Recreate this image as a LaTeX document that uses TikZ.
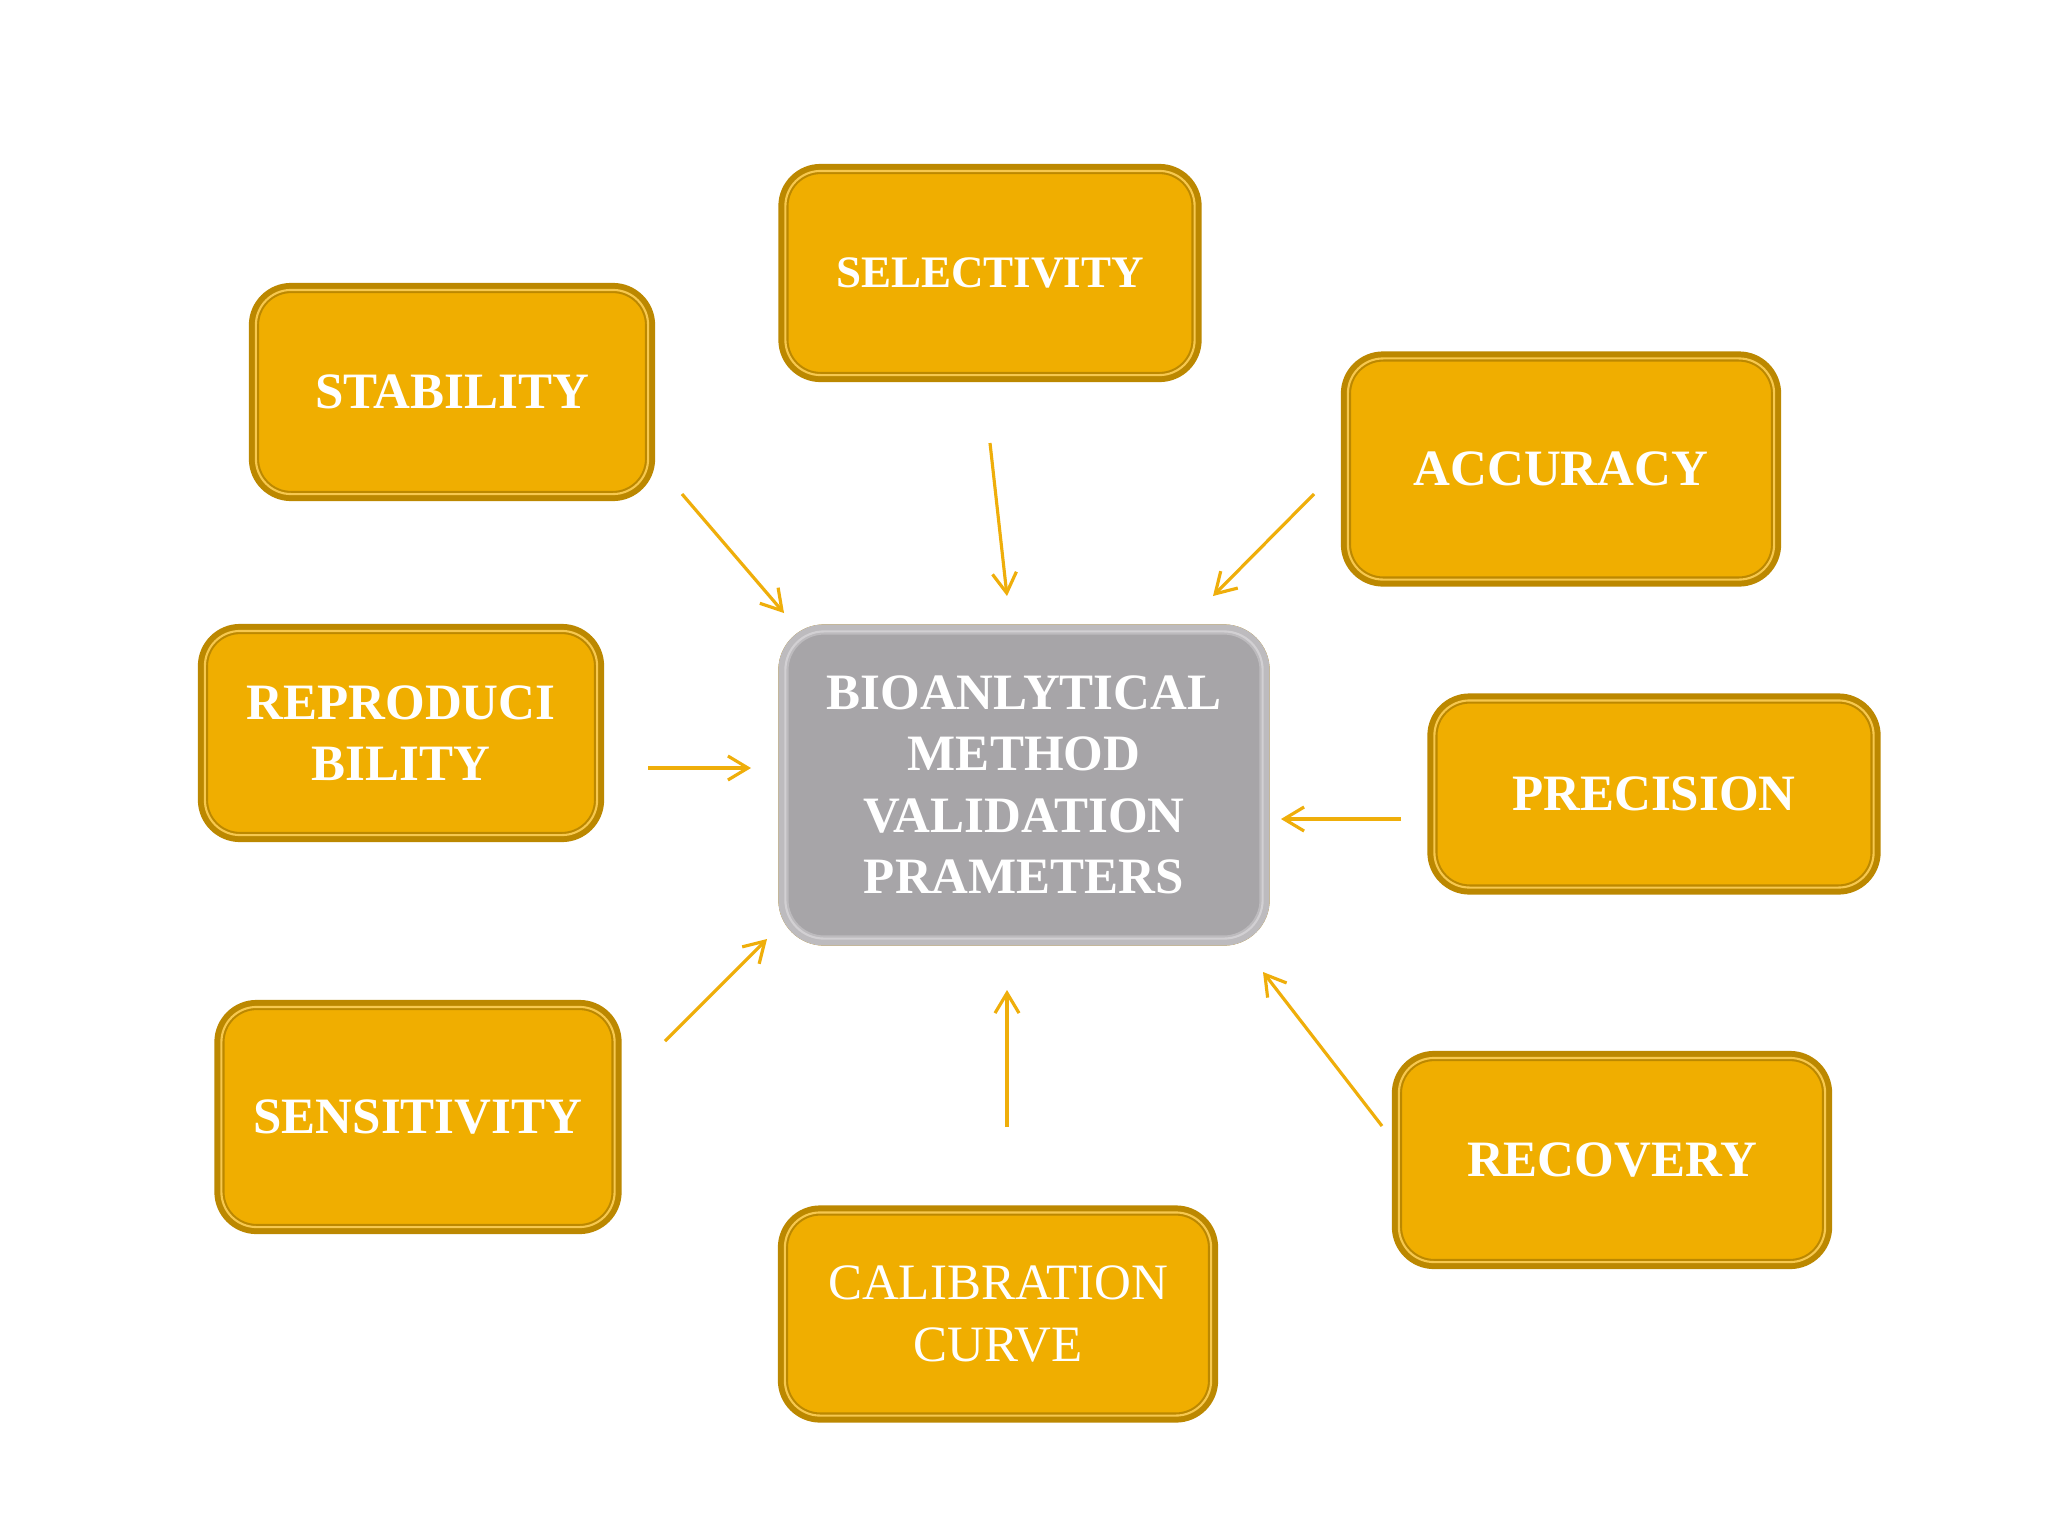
\documentclass[tikz,border=0pt]{standalone}
\usepackage{fontspec}
\setmainfont{Liberation Serif}
\usetikzlibrary{arrows.meta}
\definecolor{amber}{HTML}{F0AE00}
\definecolor{dkamber}{HTML}{BC8800}
\definecolor{ltamber}{HTML}{F7C84E}
\definecolor{slate}{HTML}{A7A5A8}
\definecolor{dkslate}{HTML}{BDBBBE}
\definecolor{ltslate}{HTML}{D2D0D3}
\definecolor{arrowgold}{HTML}{EFAE0A}

\begin{document}
\begin{tikzpicture}[x=0.01cm, y=-0.01cm,
  >={Straight Barb[length=2mm, width=2.4mm]},
  param/.style={preaction={draw=dkamber, line width=4pt}, draw=dkamber, double=ltamber,
    double distance=0.6pt, line width=0.6pt, fill=amber, rounded corners=10pt,
    text=white, align=center, inner sep=0pt,
    font=\fontsize{14.5}{17.5}\selectfont\bfseries},
  centre/.style={param, preaction={draw=dkslate, line width=4pt}, draw=dkslate,
    double=ltslate, fill=slate, rounded corners=11pt},
  link/.style={->, arrowgold, line width=0.9pt}]

% Background
\fill[white] (0,0) rectangle (2048,1536);
\useasboundingbox (0,0) rectangle (2048,1536);

% Centre box
\node[centre, minimum width=4.77cm, minimum height=3.07cm] (valid) at (1024,785)
  {BIOANLYTICAL\\METHOD\\VALIDATION\\PRAMETERS};

% Parameter boxes
\node[param, font=\fontsize{12.8}{16}\selectfont\bfseries,
      minimum width=4.09cm, minimum height=2.04cm] (select) at (990,273) {SELECTIVITY};
\node[param, minimum width=3.92cm, minimum height=2.04cm] (stab) at (452,392) {STABILITY};
\node[param, minimum width=4.26cm, minimum height=2.21cm] (accur) at (1561,469) {ACCURACY};
\node[param, minimum width=3.92cm, minimum height=2.04cm] (repro) at (401,733) {REPRODUCI\\BILITY};
\node[param, minimum width=4.39cm, minimum height=1.87cm] (prec) at (1654,794) {PRECISION};
\node[param, minimum width=3.93cm, minimum height=2.20cm] (sens) at (418,1117) {SENSITIVITY};
\node[param, minimum width=4.26cm, minimum height=2.04cm] (recov) at (1612,1160) {RECOVERY};
\node[param, font=\fontsize{14.5}{17.5}\selectfont, minimum width=4.26cm, minimum height=2.03cm]
  (calib) at (998,1314) {CALIBRATION\\CURVE};

% Arrow ends
\coordinate (stab-out) at (682,494);   \coordinate (stab-in) at (784,613);
\coordinate (select-out) at (990,443); \coordinate (select-in) at (1007,596);
\coordinate (accur-out) at (1314,494); \coordinate (accur-in) at (1213,596);
\coordinate (repro-out) at (648,768);  \coordinate (repro-in) at (751,768);
\coordinate (prec-out) at (1401,819);  \coordinate (prec-in) at (1281,819);
\coordinate (sens-out) at (665,1041);  \coordinate (sens-in) at (767,939);
\coordinate (calib-out) at (1007,1127); \coordinate (calib-in) at (1007,990);
\coordinate (recov-out) at (1382,1126); \coordinate (recov-in) at (1263,972);

% Arrows into the centre
\foreach \p in {stab, select, accur, repro, prec, sens, calib, recov} {
  \draw[link] (\p-out) -- (\p-in);
}

\end{tikzpicture}
\end{document}
